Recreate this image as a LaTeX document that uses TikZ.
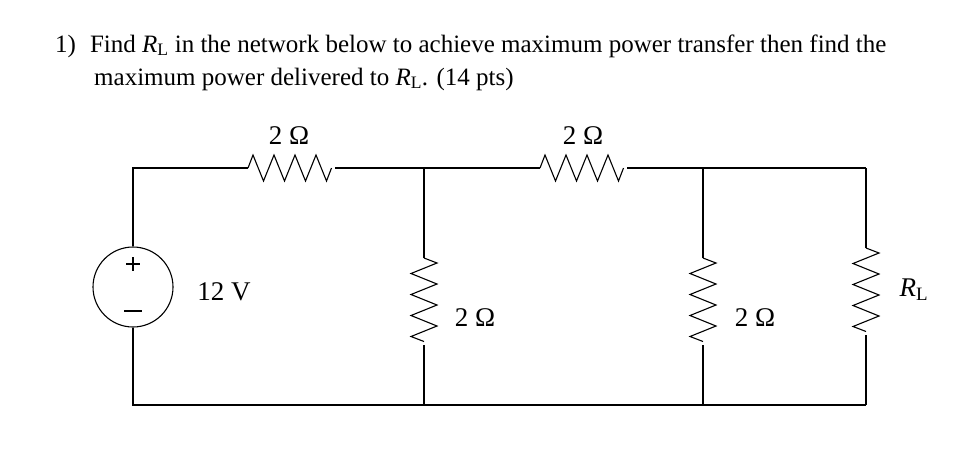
\documentclass[tikz,border=0pt]{standalone}
\usepackage{fontspec}
\setmainfont{Liberation Serif}
\begin{document}
\begin{tikzpicture}[x=1pt,y=-1pt,
 w/.style={line width=1.1pt},
 lbl/.style={font=\fontsize{25}{30}\selectfont,inner sep=0pt},
 clbl/.style={font=\fontsize{27}{30}\selectfont,inner sep=0pt}]
\useasboundingbox (0,0) rectangle (973,467);
\def\hres#1#2{\draw[w] (#1,#2) -- ++(5,-13) -- ++(10.5,26) -- ++(10.5,-26) -- ++(10.5,26) -- ++(10.5,-26) -- ++(10.5,26) -- ++(10.5,-26) -- ++(10.5,26) -- ++(5,-13);}
\def\vres#1#2{\draw[w] (#1,#2) -- ++(13,5) -- ++(-26,10.5) -- ++(26,10.5) -- ++(-26,10.5) -- ++(26,10.5) -- ++(-26,10.5) -- ++(26,10.5) -- ++(-26,10.5) -- ++(13,5);}
\coordinate (tl) at (133,168); \coordinate (bl) at (133,405);
\coordinate (t1) at (424,168); \coordinate (b1) at (424,405);
\coordinate (t2) at (703,168); \coordinate (b2) at (703,405);
\coordinate (tr) at (866,168); \coordinate (br) at (866,405);
\node[draw,circle,w,minimum size=80pt,inner sep=0pt] (src) at (133,287) {};
\draw[w] (src.north) -- (tl) -- (248,168);
\hres{248}{168}
\draw[w] (335,168) -- (t1) -- (540,168);
\hres{540}{168}
\draw[w] (627,168) -- (t2) -- (tr);
\draw[w] (src.south) -- (bl) -- (br);
\draw[w] (t1) -- (424,258); \vres{424}{258} \draw[w] (424,345) -- (b1);
\draw[w] (t2) -- (703,258); \vres{703}{258} \draw[w] (703,345) -- (b2);
\draw[w] (tr) -- (866,248); \vres{866}{248} \draw[w] (866,335) -- (br);
\draw[w] (126,264) -- (140,264) (133,257) -- (133,271);
\draw[w] (124,311) -- (142,311);
\node[clbl] (l1) at (289,136) {2 Ω};
\node[clbl] (l2) at (583,136) {2 Ω};
\node[clbl] (l3) at (475,318) {2 Ω};
\node[clbl] (l4) at (755,318) {2 Ω};
\node[clbl] (lv) at (224,292) {12 V};
\node[clbl] (lr) at (914,290) {\textit{R}\textsubscript{L}};
\node[lbl,anchor=base west] (t1x) at (55,52) {1)\hspace{14pt}Find \textit{R}\textsubscript{L} in the network below to achieve maximum power transfer then find the};
\node[lbl,anchor=base west] (t2x) at (94,85) {maximum power delivered to \textit{R}\textsubscript{L}. (14 pts)};
\end{tikzpicture}
\end{document}
